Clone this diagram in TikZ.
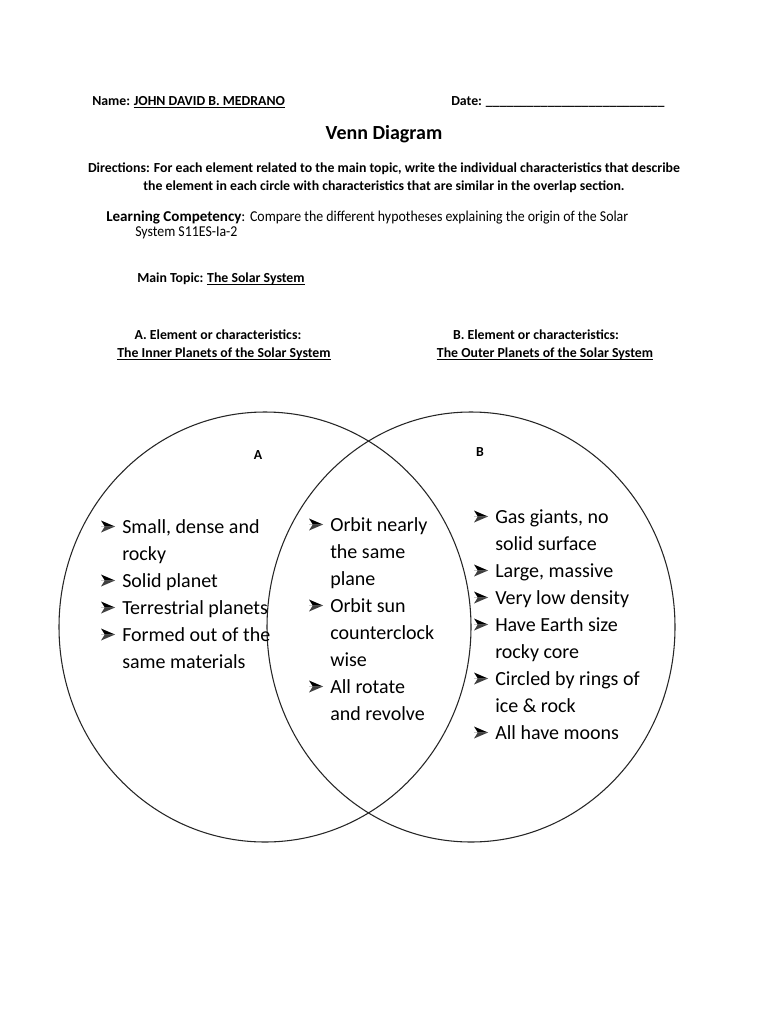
\documentclass[tikz,border=0pt]{standalone}
\usepackage{fontspec}
\setmainfont{Carlito}
\tikzset{
  hdr/.style={inner sep=0pt, anchor=base west, font=\fontsize{10.35}{12}\selectfont\bfseries},
  hdrc/.style={hdr, anchor=base},
  lcstyle/.style={inner sep=0pt, anchor=base west, font=\fontsize{11.3}{13}\selectfont},
  body/.style={inner sep=0pt, anchor=base west, font=\fontsize{15}{18}\selectfont},
  venn/.style={draw=black!85, line width=0.8pt},
  uline/.style={line width=0.7pt, black},
  abul/.pic={
    \fill[black] (0,-6.5) -- (3.8,-6.5) -- (0,-12.5) -- (14,-6.5) -- cycle;
    \fill[black!75] (0,-6.5) -- (3.8,-6.5) -- (0,-0.5) -- (14,-6.5) -- cycle;
  },
}
\newcommand{\lcs}[1]{\scalebox{0.92}[1]{#1}}
\begin{document}
\begin{tikzpicture}[x=0.75pt,y=-0.75pt]
\fill[white] (0,0) rectangle (768,1024);
\useasboundingbox (0,0) rectangle (768,1024);

% header
\node[hdr] (namel) at (92,105.5) {Name:};
\node[hdr] (namev) at ([xshift=2.4pt]namel.base east) {JOHN DAVID B. MEDRANO};
\draw[uline] ([yshift=-1.6pt]namev.base west) -- ([yshift=-1.6pt]namev.base east);
\node[hdr] (datel) at (451,105.5) {Date:};
\node[hdr] (dateu) at ([xshift=2.4pt]datel.base east) {\_\_\_\_\_\_\_\_\_\_\_\_\_\_\_\_\_\_\_\_\_\_\_\_\_\_};

\node[inner sep=0pt, anchor=base, font=\fontsize{15}{18}\selectfont\bfseries] (title) at (384,139) {Venn Diagram};

\node[hdrc] (dir1) at (384,172.5) {Directions: For each element related to the main topic, write the individual characteristics that describe};
\node[hdrc] (dir2) at (384,190.5) {the element in each circle with characteristics that are similar in the overlap section.};

\node[lcstyle] (lc1) at (106,221) {\textbf{Learning Competency}: \lcs{Compare the different hypotheses explaining the origin of the Solar}};
\node[lcstyle] (lc2) at (135,236) {\lcs{System S11ES-Ia-2}};

\node[hdr] (mtl) at (137,282.5) {Main Topic:};
\node[hdr] (mtv) at ([xshift=2.4pt]mtl.base east) {The Solar System};
\draw[uline] ([yshift=-1.6pt]mtv.base west) -- ([yshift=-1.6pt]mtv.base east);

\node[hdrc] (ah) at (218,339.5) {A. Element or characteristics:};
\node[hdrc] (at) at (224,357.5) {The Inner Planets of the Solar System};
\draw[uline] ([yshift=-1.6pt]at.base west) -- ([yshift=-1.6pt]at.base east);
\node[hdrc] (bh) at (536,339.5) {B. Element or characteristics:};
\node[hdrc] (bt) at (545,357.5) {The Outer Planets of the Solar System};
\draw[uline] ([yshift=-1.6pt]bt.base west) -- ([yshift=-1.6pt]bt.base east);

% ellipses
\draw[venn] (265,627) ellipse [x radius=154.5pt, y radius=161.25pt];
\draw[venn] (471,627) ellipse [x radius=153pt, y radius=161.25pt];

\node[hdrc] (la) at (258,459) {A};
\node[hdrc] (lb) at (480,456) {B};

% left list
\pic at (101,533) {abul};
\node[body] (l1) at (122,533) {Small, dense and};
\node[body] (l2) at (122,560) {rocky};
\pic at (101,587) {abul};
\node[body] (l3) at (122,587) {Solid planet};
\pic at (101,614) {abul};
\node[body] (l4) at (122,614) {Terrestrial planets};
\pic at (101,641) {abul};
\node[body] (l5) at (122,641) {Formed out of the};
\node[body] (l6) at (122,668) {same materials};

% middle list
\pic at (309,531) {abul};
\node[body] (m1) at (330,531) {Orbit nearly};
\node[body] (m2) at (330,558) {the same};
\node[body] (m3) at (330,585) {plane};
\pic at (309,612) {abul};
\node[body] (m4) at (330,612) {Orbit sun};
\node[body] (m5) at (330,639) {counterclock};
\node[body] (m6) at (330,666) {wise};
\pic at (309,693) {abul};
\node[body] (m7) at (330,693) {All rotate};
\node[body] (m8) at (330,720) {and revolve};

% right list
\pic at (474,523) {abul};
\node[body] (r1) at (495,523) {Gas giants, no};
\node[body] (r2) at (495,550) {solid surface};
\pic at (474,577) {abul};
\node[body] (r3) at (495,577) {Large, massive};
\pic at (474,604) {abul};
\node[body] (r4) at (495,604) {Very low density};
\pic at (474,631) {abul};
\node[body] (r5) at (495,631) {Have Earth size};
\node[body] (r6) at (495,658) {rocky core};
\pic at (474,685) {abul};
\node[body] (r7) at (495,685) {Circled by rings of};
\node[body] (r8) at (495,712) {ice \& rock};
\pic at (474,739) {abul};
\node[body] (r9) at (495,739) {All have moons};
\end{tikzpicture}
\end{document}
